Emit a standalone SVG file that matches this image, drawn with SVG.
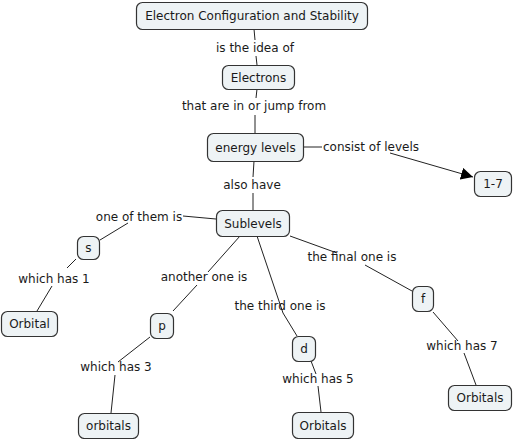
<svg xmlns="http://www.w3.org/2000/svg" width="513" height="439" viewBox="0 0 513 439">
<style>
.n rect{fill:#eef3f5;stroke:#333;stroke-width:1.2}
text{font-family:"DejaVu Sans",Verdana,sans-serif;font-size:12px;fill:#1a1a1a;text-anchor:middle;dominant-baseline:central}
.c line{stroke:#222;stroke-width:1}
.lbl{fill:#fff}
</style>
<defs>
<marker id="ah" viewBox="0 0 10 10" refX="10" refY="5" markerWidth="12" markerHeight="12" markerUnits="userSpaceOnUse" orient="auto">
<path d="M0,0 L10,5 L0,10 z" fill="#000"/>
</marker>
</defs>
<rect width="513" height="439" fill="#fff"/>
<g id="connectors" class="c">
<line x1="254" y1="29" x2="255" y2="40"/>
<line x1="256" y1="56" x2="257" y2="65"/>
<line x1="257" y1="89" x2="256" y2="98"/>
<line x1="255" y1="115" x2="255" y2="133"/>
<line x1="303" y1="147" x2="322" y2="147"/>
<line x1="390" y1="153" x2="473" y2="177" marker-end="url(#ah)"/>
<line x1="254" y1="161" x2="253" y2="177"/>
<line x1="253" y1="193" x2="253" y2="210"/>
<line x1="183" y1="216" x2="216" y2="219"/>
<line x1="128" y1="223" x2="100" y2="240"/>
<line x1="76" y1="259" x2="67" y2="268"/>
<line x1="52" y1="286" x2="37" y2="311"/>
<line x1="240" y1="236" x2="208" y2="272"/>
<line x1="197" y1="285" x2="173" y2="311"/>
<line x1="150" y1="337" x2="118" y2="362"/>
<line x1="115" y1="375" x2="111" y2="413"/>
<line x1="257" y1="236" x2="283" y2="313"/>
<line x1="283" y1="313" x2="297" y2="336"/>
<line x1="311" y1="361" x2="316" y2="374"/>
<line x1="318" y1="386" x2="321" y2="412"/>
<line x1="290" y1="236" x2="337" y2="253"/>
<line x1="365" y1="265" x2="412" y2="291"/>
<line x1="433" y1="312" x2="458" y2="341"/>
<line x1="464" y1="353" x2="476" y2="385"/>
</g>
<g id="labels">
<text x="255" y="48">is the idea of</text>
<text x="254" y="106">that are in or jump from</text>
<text x="371" y="147">consist of levels</text>
<text x="252" y="185">also have</text>
<text x="139" y="217">one of them is</text>
<text x="54" y="279">which has 1</text>
<text x="204" y="277">another one is</text>
<text x="116" y="367">which has 3</text>
<text x="280" y="306">the third one is</text>
<text x="318" y="379">which has 5</text>
<text x="352" y="257">the final one is</text>
<text x="462" y="346">which has 7</text>
</g>
<g id="n-ecs" class="n"><rect x="136.5" y="2.5" width="231" height="27" rx="6"/><text x="252" y="16">Electron Configuration and Stability</text></g>
<g id="n-electrons" class="n"><rect x="222.5" y="65.5" width="72" height="24" rx="6"/><text x="258.5" y="77.5">Electrons</text></g>
<g id="n-energy" class="n"><rect x="207.5" y="133.5" width="96" height="28" rx="6"/><text x="255.5" y="147.5">energy levels</text></g>
<g id="n-17" class="n"><rect x="474.5" y="171.5" width="37" height="25" rx="6"/><text x="493" y="184">1-7</text></g>
<g id="n-sublevels" class="n"><rect x="216.5" y="210.5" width="73" height="26" rx="6"/><text x="253" y="223.5">Sublevels</text></g>
<g id="n-s" class="n"><rect x="77.5" y="236.5" width="22" height="23" rx="6"/><text x="88.5" y="247.5">s</text></g>
<g id="n-orbital" class="n"><rect x="1.5" y="311.5" width="56" height="25" rx="6"/><text x="29.5" y="323.5">Orbital</text></g>
<g id="n-p" class="n"><rect x="150.5" y="313.5" width="23" height="25" rx="6"/><text x="162" y="325.5">p</text></g>
<g id="n-orbitals-p" class="n"><rect x="78.5" y="413.5" width="60" height="25" rx="6"/><text x="108.5" y="425.5">orbitals</text></g>
<g id="n-d" class="n"><rect x="292.5" y="336.5" width="23" height="25" rx="6"/><text x="304" y="348.5">d</text></g>
<g id="n-orbitals-d" class="n"><rect x="292.5" y="412.5" width="61" height="26" rx="6"/><text x="323" y="425.5">Orbitals</text></g>
<g id="n-f" class="n"><rect x="412.5" y="286.5" width="21" height="25" rx="6"/><text x="423" y="298.5">f</text></g>
<g id="n-orbitals-f" class="n"><rect x="448.5" y="385.5" width="63" height="25" rx="6"/><text x="480" y="397.5">Orbitals</text></g>
</svg>
